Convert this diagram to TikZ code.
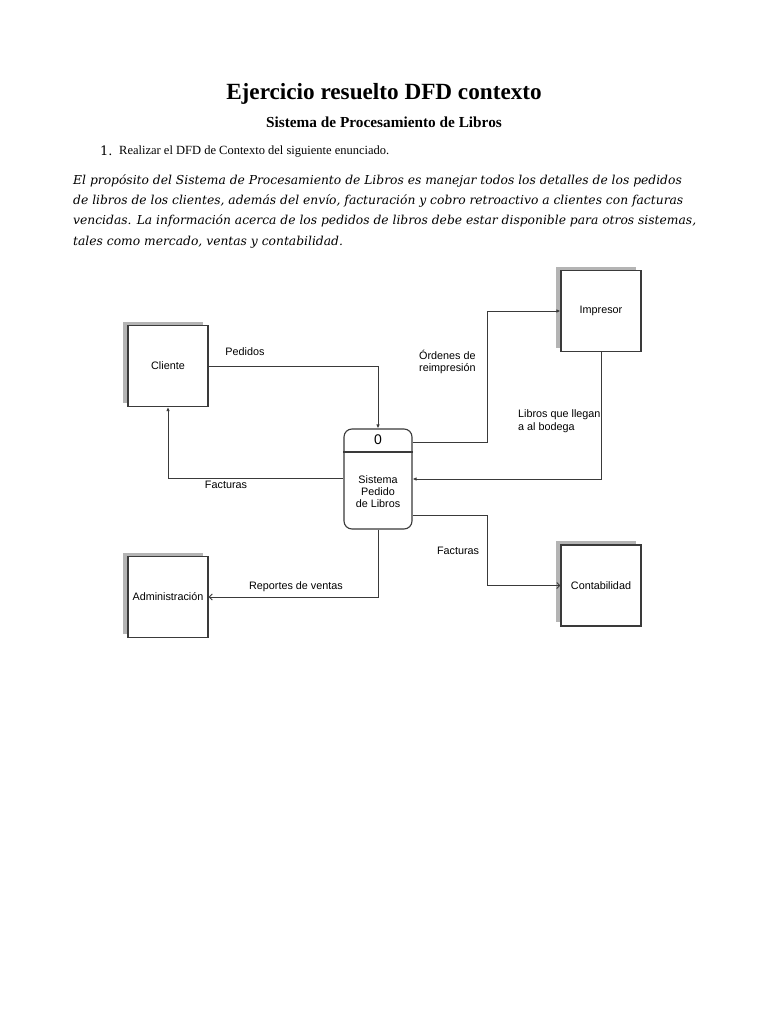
\documentclass[tikz,border=0pt]{standalone}
\usepackage{fontspec}
\setmainfont{Liberation Serif}
\newfontfamily\diagfont{Liberation Sans}
\newfontfamily\parafont{DejaVu Serif}
\usepackage{xcolor}
\usetikzlibrary{arrows.meta,shadows}

\definecolor{linegray}{HTML}{3A3A3A}
\definecolor{shadowgray}{HTML}{B4B4B4}

\begin{document}
\begin{tikzpicture}[x=1pt,y=-1pt,
	entity/.style={draw=linegray,line width=1.1pt,fill=white,minimum width=80pt,minimum height=81pt,inner sep=0pt,font=\diagfont\fontsize{10.8}{12}\selectfont,
		general shadow={fill=shadowgray,shadow xshift=-5pt,shadow yshift=4pt}},
	process/.style={draw=linegray,line width=1.1pt,rounded corners=8pt,minimum width=68pt,minimum height=100pt,inner sep=0pt},
	flow/.style={draw=linegray,line width=1pt,-{Latex[length=4pt,width=3.5pt]}},
	openflow/.style={draw=linegray,line width=1pt,-{Straight Barb[length=3pt,width=6pt]}},
	lbl/.style={inner sep=0pt,font=\diagfont\fontsize{10.8}{12.8}\selectfont,align=left},
	paraline/.style={anchor=base west,inner sep=0pt,font=\parafont\itshape\fontsize{12.3}{14}\selectfont}]
	\useasboundingbox (0,0) rectangle (768,1024);
	\fill[white] (0,0) rectangle (768,1024);
	% heading
	\node[inner sep=0pt,font=\bfseries\fontsize{23.2}{26}\selectfont] (title) at (384,94) {Ejercicio resuelto DFD contexto};
	\node[inner sep=0pt,font=\bfseries\fontsize{15.3}{17}\selectfont] (subtitle) at (384,122) {Sistema de Procesamiento de Libros};
	\node[anchor=base west,inner sep=0pt,font=\parafont\fontsize{13}{15}\selectfont] (num) at (100,156) {1.};
	\node[anchor=base west,inner sep=0pt,font=\fontsize{12.5}{14}\selectfont] (task) at (119,155) {Realizar el DFD de Contexto del siguiente enunciado.};
	\node[paraline] (p1) at (73,185) {El propósito del Sistema de Procesamiento de Libros es manejar todos los detalles de los pedidos};
	\node[paraline] (p2) at (73,205) {de libros de los clientes, además del envío, facturación y cobro retroactivo a clientes con facturas};
	\node[paraline] (p3) at (73,225) {vencidas. La información acerca de los pedidos de libros debe estar disponible para otros sistemas,};
	\node[paraline] (p4) at (73,245) {tales como mercado, ventas y contabilidad.};
	% entities
	\node[entity] (cliente) at (168,366) {Cliente};
	\node[entity] (impresor) at (601,311) {Impresor};
	\node[entity] (admin) at (168,597) {Administración};
	\node[entity] (contab) at (601,585.5) {Contabilidad};
	% process
	\node[process] (proc) at (378,479) {};
	\draw[draw=linegray,line width=1.1pt] (proc.west |- 0,452) -- (proc.east |- 0,452);
	\node[inner sep=0pt,font=\diagfont\fontsize{14}{16}\selectfont] (procnum) at (378,440) {0};
	\node[inner sep=0pt,align=center,font=\diagfont\fontsize{10.8}{12}\selectfont] (procname) at (378,492) {Sistema\\Pedido\\de Libros};
	% flows
	\draw[flow] (cliente.east) -| (proc.north);
	\node[lbl] (l1) at (245,352) {Pedidos};
	\draw[flow] (proc.west |- 0,478) -| (cliente.south);
	\node[lbl] (l2) at (226,485) {Facturas};
	\draw[flow] (proc.east |- 0,442) -- (487,442) |- (impresor.west);
	\node[lbl,anchor=west] (l3) at (419,362) {Órdenes de\\reimpresión};
	\draw[flow] (impresor.south) |- (proc.east);
	\node[lbl,anchor=west] (l4) at (518,421) {Libros que llegan\\a al bodega};
	\draw[openflow] (proc.east |- 0,515) -- (487,515) |- (contab.west);
	\node[lbl] (l5) at (458,551) {Facturas};
	\draw[openflow] (proc.south) |- (admin.east);
	\node[lbl] (l6) at (296,587) {Reportes de ventas};
\end{tikzpicture}
\end{document}
